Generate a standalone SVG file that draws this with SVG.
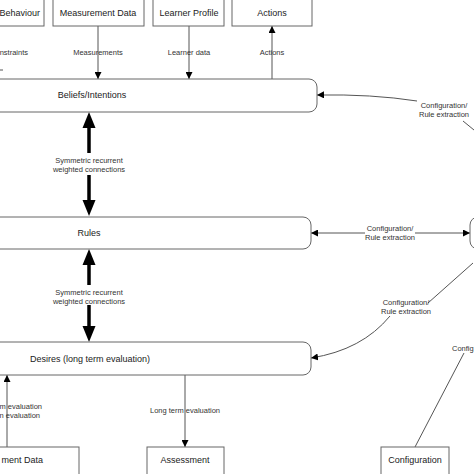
<svg xmlns="http://www.w3.org/2000/svg" width="474" height="474" viewBox="0 0 474 474">
<defs>
<style>
.box{fill:#fff;stroke:#666;stroke-width:1}
.lbl{font-family:"Liberation Sans",Arial,sans-serif;font-size:9px;fill:#222;text-anchor:middle}
.sm{font-family:"Liberation Sans",Arial,sans-serif;font-size:7.5px;fill:#333;text-anchor:middle}
.ln{fill:none;stroke:#555;stroke-width:1}
.thick{fill:none;stroke:#000;stroke-width:3.5}
</style>
<marker id="ah" viewBox="0 0 10 10" refX="10" refY="5" markerWidth="7" markerHeight="7" markerUnits="userSpaceOnUse" orient="auto-start-reverse">
<path d="M0,0 L10,5 L0,10 z" fill="#000"/>
</marker>
<marker id="big" viewBox="0 0 10 10" refX="10" refY="5" markerWidth="16" markerHeight="14" markerUnits="userSpaceOnUse" orient="auto-start-reverse" preserveAspectRatio="none">
<path d="M0,0 L10,5 L0,10 z" fill="#000"/>
</marker>
</defs>
<rect width="474" height="474" fill="#fff"/>

<g id="connectors">
<line class="ln" x1="98" y1="26" x2="98" y2="79" marker-end="url(#ah)"/>
<line class="ln" x1="189" y1="26" x2="189" y2="79" marker-end="url(#ah)"/>
<line class="ln" x1="272" y1="79" x2="272" y2="26" marker-end="url(#ah)"/>
<line class="ln" x1="0" y1="70" x2="3" y2="70"/>
<path class="thick" d="M89,126 L89,153" />
<path class="thick" d="M89,175 L89,202" />
<path d="M89,112 L82.5,128 L95.5,128 z" fill="#000"/>
<path d="M89,216 L82.5,200 L95.5,200 z" fill="#000"/>
<path class="thick" d="M89,262 L89,285" />
<path class="thick" d="M89,305 L89,328" />
<path d="M89,249 L82.5,265 L95.5,265 z" fill="#000"/>
<path d="M89,342 L82.5,326 L95.5,326 z" fill="#000"/>
<line class="ln" x1="311" y1="233" x2="365" y2="233" marker-start="url(#ah)"/>
<line class="ln" x1="415" y1="233" x2="470" y2="233" marker-end="url(#ah)"/>
<path class="ln" d="M417,101 Q372,94 317,95" marker-end="url(#ah)"/>
<path class="ln" d="M474,130 L463,121"/>
<path class="ln" d="M473,263 L428,303"/>
<path class="ln" d="M390,316 Q362,350 311,358" marker-end="url(#ah)"/>
<line class="ln" x1="7" y1="447" x2="7" y2="375" marker-end="url(#ah)"/>
<line class="ln" x1="185" y1="375" x2="185" y2="447" marker-end="url(#ah)"/>
<line class="ln" x1="415" y1="447" x2="464" y2="353"/>
<text class="sm" x="28" y="55" style="text-anchor:end">nstraints</text>
<text class="sm" x="98" y="55">Measurements</text>
<text class="sm" x="189" y="55">Learner data</text>
<text class="sm" x="272" y="55">Actions</text>
<text class="sm" x="89" y="163">Symmetric recurrent</text>
<text class="sm" x="89" y="172">weighted connections</text>
<text class="sm" x="89" y="295">Symmetric recurrent</text>
<text class="sm" x="89" y="304">weighted connections</text>
<text class="sm" x="444" y="108">Configuration/</text>
<text class="sm" x="444" y="117">Rule extraction</text>
<text class="sm" x="390" y="231">Configuration/</text>
<text class="sm" x="390" y="240">Rule extraction</text>
<text class="sm" x="406" y="305">Configuration/</text>
<text class="sm" x="406" y="314">Rule extraction</text>
<text class="sm" x="42" y="409" style="text-anchor:end">m evaluation</text>
<text class="sm" x="40" y="418" style="text-anchor:end">n evaluation</text>
<text class="sm" x="185" y="413">Long term evaluation</text>
<text class="sm" x="452" y="351" style="text-anchor:start">Config</text>
</g>

<g id="behaviour"><rect class="box" x="-10" y="-5" width="54" height="31"/><text class="lbl" x="40" y="16" style="text-anchor:end">Behaviour</text></g>
<g id="measurement-data"><rect class="box" x="53" y="-5" width="91" height="31"/><text class="lbl" x="98" y="16">Measurement Data</text></g>
<g id="learner-profile"><rect class="box" x="153" y="-5" width="71" height="31"/><text class="lbl" x="189" y="16">Learner Profile</text></g>
<g id="actions"><rect class="box" x="232" y="-5" width="80" height="31"/><text class="lbl" x="272" y="16">Actions</text></g>

<g id="beliefs"><rect class="box" x="-20" y="79" width="337" height="33" rx="8"/><text class="lbl" x="92" y="98">Beliefs/Intentions</text></g>
<g id="rules"><rect class="box" x="-20" y="217" width="331" height="32" rx="8"/><text class="lbl" x="89" y="236">Rules</text></g>
<g id="desires"><rect class="box" x="-20" y="342" width="331" height="33" rx="8"/><text class="lbl" x="90" y="362">Desires (long term evaluation)</text></g>
<g id="right-node"><rect class="box" x="470" y="217" width="40" height="32" rx="8"/></g>

<g id="measurement-data-bottom"><rect class="box" x="-10" y="447" width="89" height="40"/><text class="lbl" x="43" y="463" style="text-anchor:end">ment Data</text></g>
<g id="assessment"><rect class="box" x="147" y="447" width="77" height="40"/><text class="lbl" x="185" y="463">Assessment</text></g>
<g id="configuration"><rect class="box" x="381" y="447" width="68" height="40"/><text class="lbl" x="415" y="463">Configuration</text></g>
</svg>
